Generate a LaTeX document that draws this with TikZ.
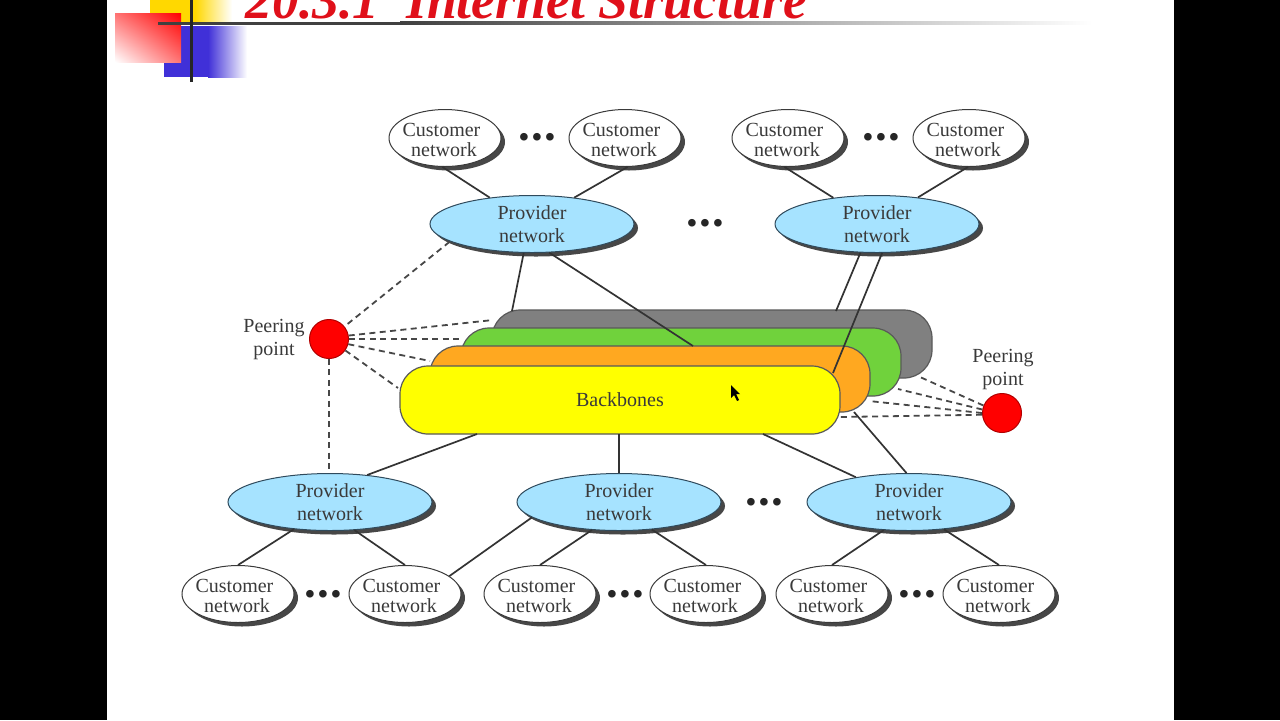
\documentclass[tikz,border=0pt]{standalone}
\usepackage{fontspec}
\setmainfont{Liberation Serif}
\usetikzlibrary{shapes.geometric,shadows,shadings}
\definecolor{ink}{HTML}{3A3A3A}
\definecolor{provblue}{HTML}{A6E3FF}
\definecolor{edgeblue}{HTML}{2F4A5C}
\definecolor{bbgray}{HTML}{808080}
\definecolor{bbgreen}{HTML}{70D23C}
\definecolor{bborange}{HTML}{FFA820}
\definecolor{bbyellow}{HTML}{FFFF00}
\definecolor{titlered}{HTML}{E0101A}
\definecolor{slideblue}{HTML}{4030D8}
\definecolor{slideyellow}{HTML}{FFD800}
\newcommand{\custlabel}{\raisebox{-4pt}[0pt][0pt]{\makebox[39pt][c]{\kern-3.5pt Customer}}\\\raisebox{-4pt}[0pt][0pt]{\makebox[39pt][c]{\kern-1pt network}}}
\tikzset{
  lbl/.style={font=\fontsize{10}{10}\selectfont,text=ink,align=center,inner sep=0pt},
  shadowed/.style={drop shadow={shadow xshift=2pt,shadow yshift=-2pt,fill=black!72,opacity=1}},
  customer/.style={ellipse,draw=ink,line width=.5pt,fill=white,minimum width=56pt,minimum height=28.5pt,inner sep=0pt,shadowed,
    font=\fontsize{10}{10}\selectfont,text=ink,align=center},
  provider/.style={ellipse,draw=edgeblue,line width=.5pt,fill=provblue,minimum width=102pt,minimum height=28.5pt,inner sep=0pt,shadowed,
    font=\fontsize{10}{11.5}\selectfont,text=ink,align=center},
  backbone/.style={draw=black!65,line width=.6pt,rounded corners=14pt,minimum width=220pt,inner sep=0pt,
    font=\fontsize{10}{10}\selectfont,text=ink},
  peer/.style={circle,draw=red!70!black,line width=.5pt,fill=red,minimum size=19.5pt,inner sep=0pt},
  link/.style={draw=black!80,line width=.85pt},
  dlink/.style={draw=black!72,line width=.9pt,dash pattern=on 3pt off 2.2pt},
  dotsn/.style={font=\fontsize{14}{14}\selectfont\bfseries,text=black!85,inner sep=0pt},
}
\begin{document}
\begin{tikzpicture}[x=0.5pt,y=-0.5pt]
\useasboundingbox (0,0) rectangle (1280,720);
\fill[white] (0,0) rectangle (1280,720);
% decoration
\shade[left color=slideyellow,right color=white] (195,0) rectangle (232,22);
\fill[slideyellow] (150,0) rectangle (195,22);
\shade[left color=slideblue,right color=white] (208,26) rectangle (247,77);
\fill[slideblue] (164,26) rectangle (208,77);
\shade[lower left=white,upper right=red,upper left=red!55!white,lower right=red!55!white] (115,13) rectangle (181,62);
\shade[left color=black!75,right color=white] (400,21.5) rectangle (1092,24.5);
\fill[black!75] (158,21.5) rectangle (400,24.5);
\fill[black!85] (189.5,0) rectangle (192.5,82);
% title
\node[anchor=base west,inner sep=0pt,text=titlered,font=\fontsize{26.8}{26.8}\selectfont\bfseries\itshape] (title) at (245,18) {20.3.1\ \ Internet Structure};
% frame
\fill[black] (0,0) rectangle (107,720);
\fill[black] (1174,0) rectangle (1280,720);
% backbones
\node[backbone,fill=bbgray,minimum height=34pt] (bb4) at (712,344) {};
\node[backbone,fill=bbgreen,minimum height=34pt] (bb3) at (681,362) {};
\node[backbone,fill=bborange,minimum height=33pt] (bb2) at (650,379) {};
\node[backbone,fill=bbyellow,minimum height=34pt] (bb1) at (620,400) {Backbones};
% customers
\node[customer] (c1) at (445,138) {\custlabel};
\node[customer] (c2) at (625,138) {\custlabel};
\node[customer] (c3) at (788,138) {\custlabel};
\node[customer] (c4) at (969,138) {\custlabel};
\node[customer] (c5) at (238,594) {\custlabel};
\node[customer] (c6) at (405,594) {\custlabel};
\node[customer] (c7) at (540,594) {\custlabel};
\node[customer] (c8) at (706,594) {\custlabel};
\node[customer] (c9) at (832,594) {\custlabel};
\node[customer] (c10) at (999,594) {\custlabel};
% providers
\node[provider] (p1) at (532,224) {Provider\\network};
\node[provider] (p2) at (877,224) {Provider\\network};
\node[provider] (p3) at (330,502) {Provider\\network};
\node[provider] (p4) at (619,502) {Provider\\network};
\node[provider] (p5) at (909,502) {Provider\\network};
% peering
\node[peer] (pa) at (329,339) {};
\node[peer] (pb) at (1002,413) {};
\node[lbl,font=\fontsize{10}{11.5}\selectfont] (la) at (274,339) {Peering\\point};
\node[lbl,font=\fontsize{10}{11.5}\selectfont] (lb) at (1003,369) {Peering\\point};
% dots
\foreach \n/\x/\y in {d1/537/140,d2/881/140,d3/705/226,d4/764/505,d5/323/597,d6/625/597,d7/917/597}
  \node[dotsn] (\n) at (\x,\y) {•\kern1.6pt•\kern1.6pt•};
% free ends on the backbones
\coordinate (g1) at (512,311);
\coordinate (g2) at (836,311);
\coordinate (o1) at (693,346);
\coordinate (y1) at (833,373);
\coordinate (y2) at (477,434);
\coordinate (y3) at (619,434);
\coordinate (y4) at (763,434);
\coordinate (o2) at (854,412);
\coordinate (da1) at (493,320);
\coordinate (da2) at (461,339);
\coordinate (da3) at (430,361);
\coordinate (da4) at (398,388);
\coordinate (db1) at (920,377);
\coordinate (db2) at (898,389);
\coordinate (db3) at (869,401);
\coordinate (db4) at (840,417);
% links
\draw[link] (c1.265) -- (p1.148);
\draw[link] (c2.275) -- (p1.32);
\draw[link] (c3.263) -- (p2.149);
\draw[link] (c4.268) -- (p2.33);
\draw[link] (p1.254) -- (g1);
\draw[link] (p1.301) -- (o1);
\draw[link] (p2.240) -- (g2);
\draw[link] (p2.280) -- (y1);
\draw[link] (y2) -- (p3.36);
\draw[link] (y3) -- (p4.north);
\draw[link] (y4) -- (p5.155);
\draw[link] (o2) -- (p5.95);
\draw[link] (p3.217) -- (c5.north);
\draw[link] (p3.311) -- (c6.north);
\draw[link] (p4.190) -- (c6.22);
\draw[link] (p4.226) -- (c7.north);
\draw[link] (p4.320) -- (c8.north);
\draw[link] (p5.228) -- (c9.north);
\draw[link] (p5.322) -- (c10.north);
% dashed
\draw[dlink,shorten <=2pt] (pa.39) -- (p1.192);
\draw[dlink] (pa.10) -- (da1);
\draw[dlink] (pa.0) -- (da2);
\draw[dlink] (pa.-15) -- (da3);
\draw[dlink] (pa.-35) -- (da4);
\draw[dlink] (pa.south) -- (pa.south |- p3.north);
\draw[dlink] (pb.158) -- (db1);
\draw[dlink] (pb.170) -- (db2);
\draw[dlink] (pb.180) -- (db3);
\draw[dlink] (pb.185) -- (db4);
% cursor
\fill[black] (731,385) -- (731,398) -- (734,395) -- (737,401) -- (739,400) -- (736,394) -- (740,394) -- cycle;
\end{tikzpicture}
\end{document}
